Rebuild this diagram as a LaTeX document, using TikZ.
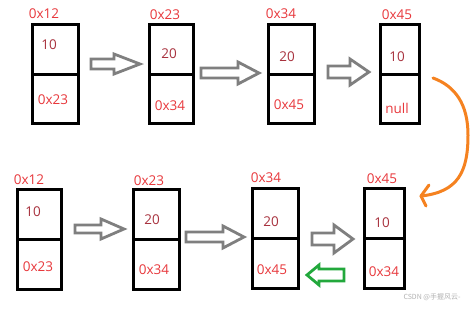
\documentclass[tikz,border=0pt]{standalone}
\usepackage{fontspec}
\setmainfont{Open Sans}
\newfontfamily\cjkfont{Noto Sans CJK SC}
\definecolor{addr}{HTML}{E8383C}
\definecolor{val}{HTML}{A8323E}
\definecolor{harr}{HTML}{7F7F7F}
\definecolor{garr}{HTML}{22A83C}
\definecolor{oarr}{HTML}{F58220}
\newcommand\hollowR[7][harr]{%
  \draw[harrowline,draw=#1] (#2,#4-#5) -- (#7,#4-#5) -- (#7,#4-#6) -- (#3,#4) -- (#7,#4+#6) -- (#7,#4+#5) -- (#2,#4+#5) -- cycle;}
\begin{document}
\begin{tikzpicture}[x=1pt,y=-1pt,
  cell/.style={draw=black,line width=3pt,minimum width=46pt,minimum height=99pt,inner sep=0pt},
  addrtxt/.style={text=addr,font=\fontsize{13.5}{15}\selectfont,inner sep=0pt},
  valtxt/.style={text=val,font=\fontsize{13.5}{15}\selectfont,inner sep=0pt},
  harrowline/.style={line width=2.8pt,fill=white,line join=miter},
  divider/.style={line width=3pt,black}]
\useasboundingbox[fill=white] (0,0) rectangle (474,308);
% top row boxes
\node[cell] (b1) at (55.5,74) {};
\node[cell,minimum width=44pt] (b2) at (171.5,74) {};
\node[cell] (b3) at (291.5,74) {};
\node[cell,minimum width=39pt] (b4) at (400,74) {};
% bottom row boxes
\node[cell,minimum width=44pt,minimum height=100pt] (b5) at (39.5,239.5) {};
\node[cell,minimum height=100pt] (b6) at (156.5,239.5) {};
\node[cell,minimum height=100pt] (b7) at (275.5,238.5) {};
\node[cell,minimum width=40pt,minimum height=100pt] (b8) at (384.5,238.5) {};
\foreach \b in {b1,b2,b3,b4,b5,b6,b7,b8}{\draw[divider] (\b.west) -- (\b.east);}
% addresses
\node[addrtxt] (a1) at (44,14) {0x12};
\node[addrtxt] (a2) at (165,15) {0x23};
\node[addrtxt] (a3) at (281,14) {0x34};
\node[addrtxt] (a4) at (397,15) {0x45};
\node[addrtxt] (a5) at (29,180) {0x12};
\node[addrtxt] (a6) at (149,181) {0x23};
\node[addrtxt] (a7) at (266,178) {0x34};
\node[addrtxt] (a8) at (382,179) {0x45};
% values
\node[valtxt] (v1) at (49,45) {10};
\node[addrtxt] (n1) at (53,100) {0x23};
\node[valtxt] (v2) at (169,54) {20};
\node[addrtxt] (n2) at (170,106) {0x34};
\node[valtxt] (v3) at (287,57) {20};
\node[addrtxt] (n3) at (289,105) {0x45};
\node[valtxt] (v4) at (397,57) {10};
\node[addrtxt] (n4) at (397,108) {null};
\node[valtxt] (v5) at (33,212) {10};
\node[addrtxt] (n5) at (38,267) {0x23};
\node[valtxt] (v6) at (152,220) {20};
\node[addrtxt] (n6) at (154,270) {0x34};
\node[valtxt] (v7) at (271,222) {20};
\node[addrtxt] (n7) at (272,270) {0x45};
\node[valtxt] (v8) at (382,223) {10};
\node[addrtxt] (n8) at (384,272) {0x34};
% hollow arrows
\hollowR{91}{140}{64}{5}{10}{114}
\hollowR{201}{259}{73}{5}{11}{238}
\hollowR{328}{369}{72}{6}{13}{350}
\hollowR{75}{124}{229}{4}{10}{101}
\hollowR{186}{244}{237}{5}{11}{223}
\hollowR{312}{353}{239}{6}{14}{334}
\hollowR[garr]{344}{307}{275}{6}{10}{319}
% orange curve
\coordinate (os) at (433,78);
\coordinate (oe) at (421,196);
\draw[oarr,line width=3pt,line cap=round,line join=round]
  (os) .. controls (455,86) and (468,104) .. (468,135)
       .. controls (468,172) and (458,192) .. (oe);
\draw[oarr,line width=3pt,line cap=round,line join=round]
  (429,185) -- (oe) -- (426,206);
% watermark
\node[text=black!30,font=\cjkfont\fontsize{7}{8}\selectfont,inner sep=0pt] (wm) at (432,297) {CSDN @手握风云-};
\end{tikzpicture}
\end{document}
